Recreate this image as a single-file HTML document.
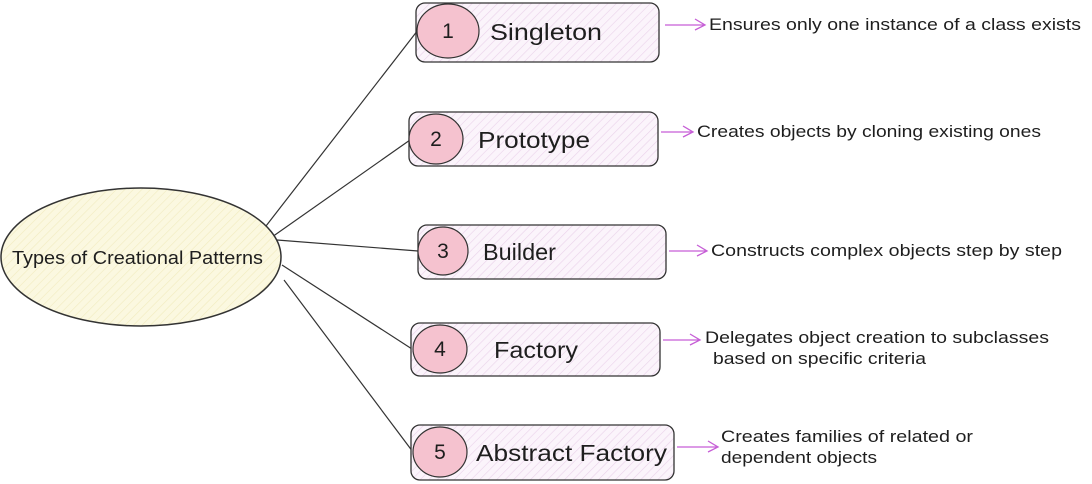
<!DOCTYPE html>
<html><head><meta charset="utf-8"><style>
html,body{margin:0;padding:0;background:#fff;}
svg{display:block;font-family:"Liberation Sans",sans-serif;}
</style></head><body>
<svg width="1092" height="484" viewBox="0 0 1092 484">
<defs>
<pattern id="h1" width="6" height="6" patternUnits="userSpaceOnUse" patternTransform="rotate(45)">
<rect width="6" height="6" fill="#fbf4fb"/><line x1="0" y1="0" x2="0" y2="6" stroke="#ead2ea" stroke-width="1.2"/></pattern>
<pattern id="h2" width="6" height="6" patternUnits="userSpaceOnUse" patternTransform="rotate(45)">
<rect width="6" height="6" fill="#fbf8e0"/><line x1="0" y1="0" x2="0" y2="6" stroke="#f1ebbf" stroke-width="1.2"/></pattern>
</defs>
<g stroke="#333" stroke-width="1.2" fill="none">
<line x1="266" y1="226" x2="418" y2="30"/>
<line x1="272" y1="237" x2="410" y2="140"/>
<line x1="277" y1="240" x2="418" y2="251"/>
<line x1="282" y1="265" x2="412" y2="349"/>
<line x1="284" y1="280" x2="413" y2="452"/>
</g>
<ellipse cx="141" cy="257" rx="140" ry="69" fill="url(#h2)" stroke="#333" stroke-width="1.5"/>
<text x="12" y="264" font-size="18" textLength="251" lengthAdjust="spacingAndGlyphs" fill="#1e1e1e">Types of Creational Patterns</text>
<g stroke="#333" stroke-width="1.3" fill="url(#h1)">
<rect x="416" y="3" width="243" height="59" rx="9"/>
<rect x="409" y="112" width="249" height="54" rx="9"/>
<rect x="418" y="225" width="248" height="54" rx="9"/>
<rect x="411" y="323" width="249" height="53" rx="9"/>
<rect x="411" y="425" width="263" height="55" rx="9"/>
</g>
<g fill="#f5c2cf" stroke="#333" stroke-width="1.2">
<ellipse cx="448" cy="31" rx="31" ry="27"/>
<ellipse cx="436" cy="139" rx="27" ry="25"/>
<ellipse cx="443" cy="251" rx="25" ry="24"/>
<ellipse cx="440" cy="349" rx="27" ry="24"/>
<ellipse cx="440" cy="452" rx="27" ry="25"/>
</g>
<g font-size="21" fill="#1e1e1e" text-anchor="middle">
<text x="448" y="38">1</text><text x="436" y="146">2</text><text x="443" y="258">3</text><text x="440" y="356">4</text><text x="440" y="459">5</text>
</g>
<g font-size="23" fill="#1e1e1e" lengthAdjust="spacingAndGlyphs">
<text x="490" y="40" textLength="112" lengthAdjust="spacingAndGlyphs">Singleton</text>
<text x="478" y="148" textLength="112" lengthAdjust="spacingAndGlyphs">Prototype</text>
<text x="483" y="260" textLength="73" lengthAdjust="spacingAndGlyphs">Builder</text>
<text x="494" y="358" textLength="84" lengthAdjust="spacingAndGlyphs">Factory</text>
<text x="476" y="461" textLength="191" lengthAdjust="spacingAndGlyphs">Abstract Factory</text>
</g>
<g stroke="#c65ed6" stroke-width="1.3" fill="none">
<path d="M665 25H705M695 19L705 25L695 30"/>
<path d="M661 132H693M683 126L693 132L683 137"/>
<path d="M669 251H707M697 245L707 251L697 256"/>
<path d="M663 340H700M690 334L700 340L690 345"/>
<path d="M677 447H718M708 441L718 447L708 452"/>
</g>
<g font-size="17" fill="#1e1e1e">
<text x="709" y="30" textLength="372" lengthAdjust="spacingAndGlyphs">Ensures only one instance of a class exists</text>
<text x="697" y="137" textLength="344" lengthAdjust="spacingAndGlyphs">Creates objects by cloning existing ones</text>
<text x="711" y="256" textLength="351" lengthAdjust="spacingAndGlyphs">Constructs complex objects step by step</text>
<text x="705" y="343" textLength="344" lengthAdjust="spacingAndGlyphs">Delegates object creation to subclasses</text>
<text x="713" y="364" textLength="213" lengthAdjust="spacingAndGlyphs">based on specific criteria</text>
<text x="721" y="442" textLength="252" lengthAdjust="spacingAndGlyphs">Creates families of related or</text>
<text x="721" y="463" textLength="156" lengthAdjust="spacingAndGlyphs">dependent objects</text>
</g>
</svg>
</body></html>
